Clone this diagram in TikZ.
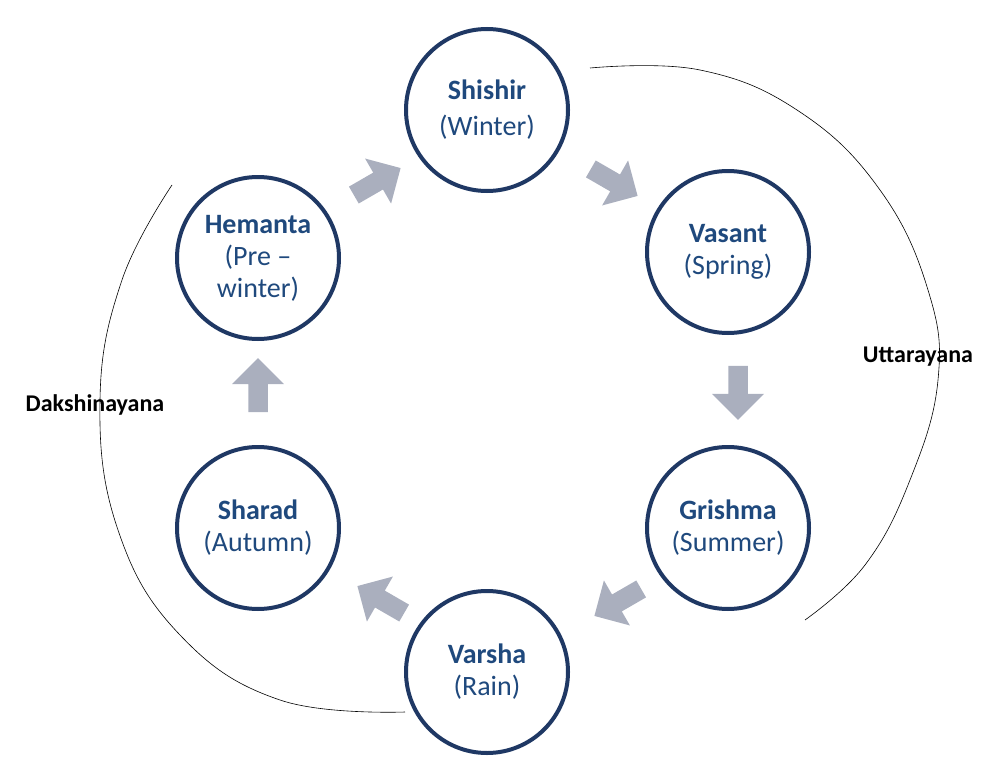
\documentclass[tikz,border=0pt]{standalone}
\usepackage{fontspec}
\setmainfont{Carlito}
\usetikzlibrary{positioning,shapes.arrows}
\definecolor{ringblue}{RGB}{31,56,100}
\definecolor{textblue}{RGB}{31,73,125}
\definecolor{arrowgrey}{RGB}{170,175,190}
\begin{document}
\begin{tikzpicture}[x=1pt,y=-1pt,
season/.style={circle,draw=ringblue,line width=4pt,fill=white,
  minimum size=162pt,align=center,text=textblue,font=\fontsize{28}{32}\selectfont},
turn/.style={single arrow,fill=arrowgrey,draw=none,minimum height=54pt,
  minimum width=52pt,single arrow head extend=7pt,inner sep=4pt},
half/.style={font=\bfseries\fontsize{24}{28}\selectfont}
]
\useasboundingbox (0,0) rectangle (999,768);
\node[season] (shishir) at (487,110) {\textbf{Shishir}\\[4pt](Winter)};
\node[season] (vasant) at (728,252) {\textbf{Vasant}\\(Spring)};
\node[season] (grishma) at (728,528) {\textbf{Grishma}\\(Summer)};
\node[season] (varsha) at (487,672) {\textbf{Varsha}\\(Rain)};
\node[season] (sharad) at (258,528) {\textbf{Sharad}\\(Autumn)};
\node[season] (hemanta) at (258,258) {\textbf{Hemanta}\\(Pre --\\winter)};
% arrows between seasons
\node[turn,rotate=30] (a1) at (373,184) {};
\node[turn,rotate=-30] (a2) at (610,180) {};
\node[turn,rotate=-90] (a3) at (738,388) {};
\node[turn,rotate=210] (a4) at (622,600) {};
\node[turn,rotate=150] (a5) at (385,602) {};
\node[turn,rotate=90] (a6) at (258,390) {};
% the two halves of the year
\draw[semithick] plot[smooth,tension=0.7] coordinates {(590,68) (700,70) (800,112)
  (880,190) (928,290) (938,380) (910,480) (865,565) (805,620)};
\draw[semithick] plot[smooth,tension=0.7] coordinates {(172,185) (122,280) (100,400)
  (118,530) (180,635) (280,700) (405,712)};
\node[half] (utt) at (918,357) {Uttarayana};
\node[half] (dak) at (95,405) {Dakshinayana};
\end{tikzpicture}
\end{document}
